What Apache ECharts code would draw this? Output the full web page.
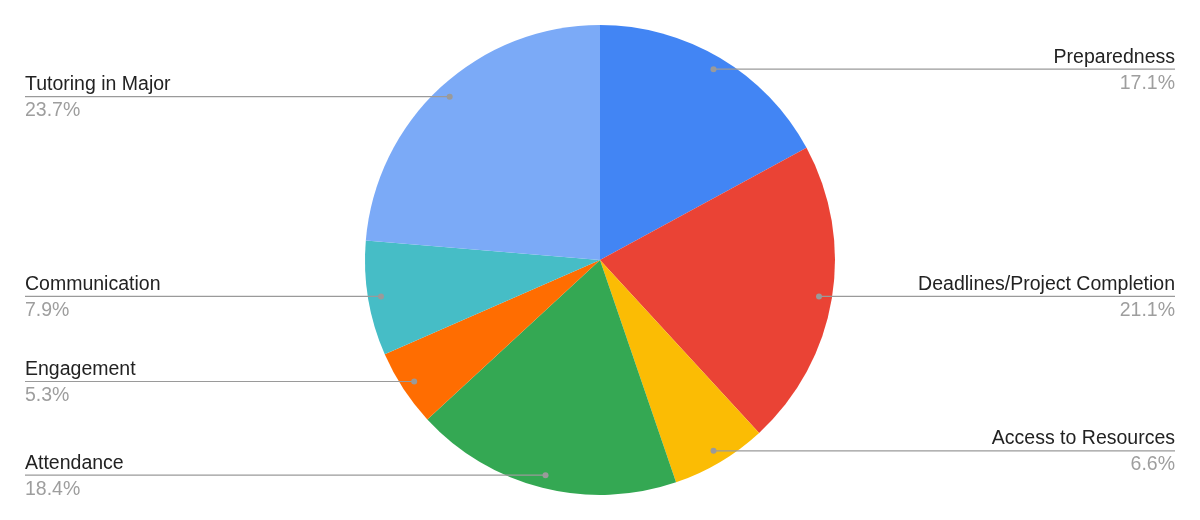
<!DOCTYPE html>
<html>
<head>
<meta charset="utf-8">
<script src="https://cdn.jsdelivr.net/npm/echarts@6/dist/echarts.min.js"></script>
<style>html,body{margin:0;padding:0;background:#fff}#c{width:1200px;height:520px}</style>
</head>
<body>
<div id="c"></div>
<script>
const categories = ["Preparedness","Deadlines/Project Completion","Access to Resources","Attendance","Engagement","Communication","Tutoring in Major"];
const percents = [17.1, 21.1, 6.6, 18.4, 5.3, 7.9, 23.7];
const colors = ["#4285F4","#EA4335","#FBBC04","#34A853","#FF6D01","#46BDC6","#7BAAF7"];

const chart = echarts.init(document.getElementById('c'));
const W = 1200, EDGE = 25, CX = 600, CY = 260, R = 235, RD = 222;
const data = categories.map((n,i)=>({name:n, value:percents[i]}));
const FONT = '"Liberation Sans", Arial, sans-serif';

chart.setOption({
  animation:false,
  color: colors,
  series:[
    {
      type:'pie', center:[CX,CY], radius:[0,R], startAngle:90, clockwise:true,
      silent:true, label:{show:false}, labelLine:{show:false},
      itemStyle:{borderWidth:0},
      data: data, z:1
    },
    {
      type:'pie', center:[CX,CY], radius:[0,RD], startAngle:90, clockwise:true,
      silent:true,
      itemStyle:{color:'rgba(0,0,0,0)', borderWidth:0},
      label:{
        show:true, position:'outside',
        formatter: p => '{n|'+p.name+'}\n{p|'+p.value.toFixed(1)+'%}',
        rich:{
          n:{fontFamily:FONT, fontSize:19.5, color:'#222222', lineHeight:26},
          p:{fontFamily:FONT, fontSize:19.5, color:'#9e9e9e', lineHeight:26}
        }
      },
      labelLine:{show:true, length:0, length2:20, smooth:false, lineStyle:{color:'#9a9a9a', width:1.2}},
      labelLayout: function(params){
        const pts = params.labelLinePoints;
        if(!pts) return {};
        const p0 = pts[0];
        const right = p0[0] >= CX;
        const ly = p0[1];
        const ex = right ? W-EDGE : EDGE;
        return {
          x: ex, y: ly + 1, align: right ? 'right':'left', verticalAlign:'middle',
          labelLinePoints: [p0, p0, [ex, ly]]
        };
      },
      data: data, z:2
    },
    {
      type:'pie', center:[CX,CY], radius:[RD-13,RD+7], startAngle:90, clockwise:true,
      silent:true,
      itemStyle:{color:'rgba(0,0,0,0)', borderWidth:0},
      label:{show:true, position:'inside', formatter:' ', fontSize:6, lineHeight:6,
             width:6, height:6, borderRadius:3, backgroundColor:'#9a9a9a', padding:0,
             align:'center', verticalAlign:'middle'},
      labelLine:{show:false},
      data: data, z:3
    }
  ]
});
</script>
</body>
</html>
